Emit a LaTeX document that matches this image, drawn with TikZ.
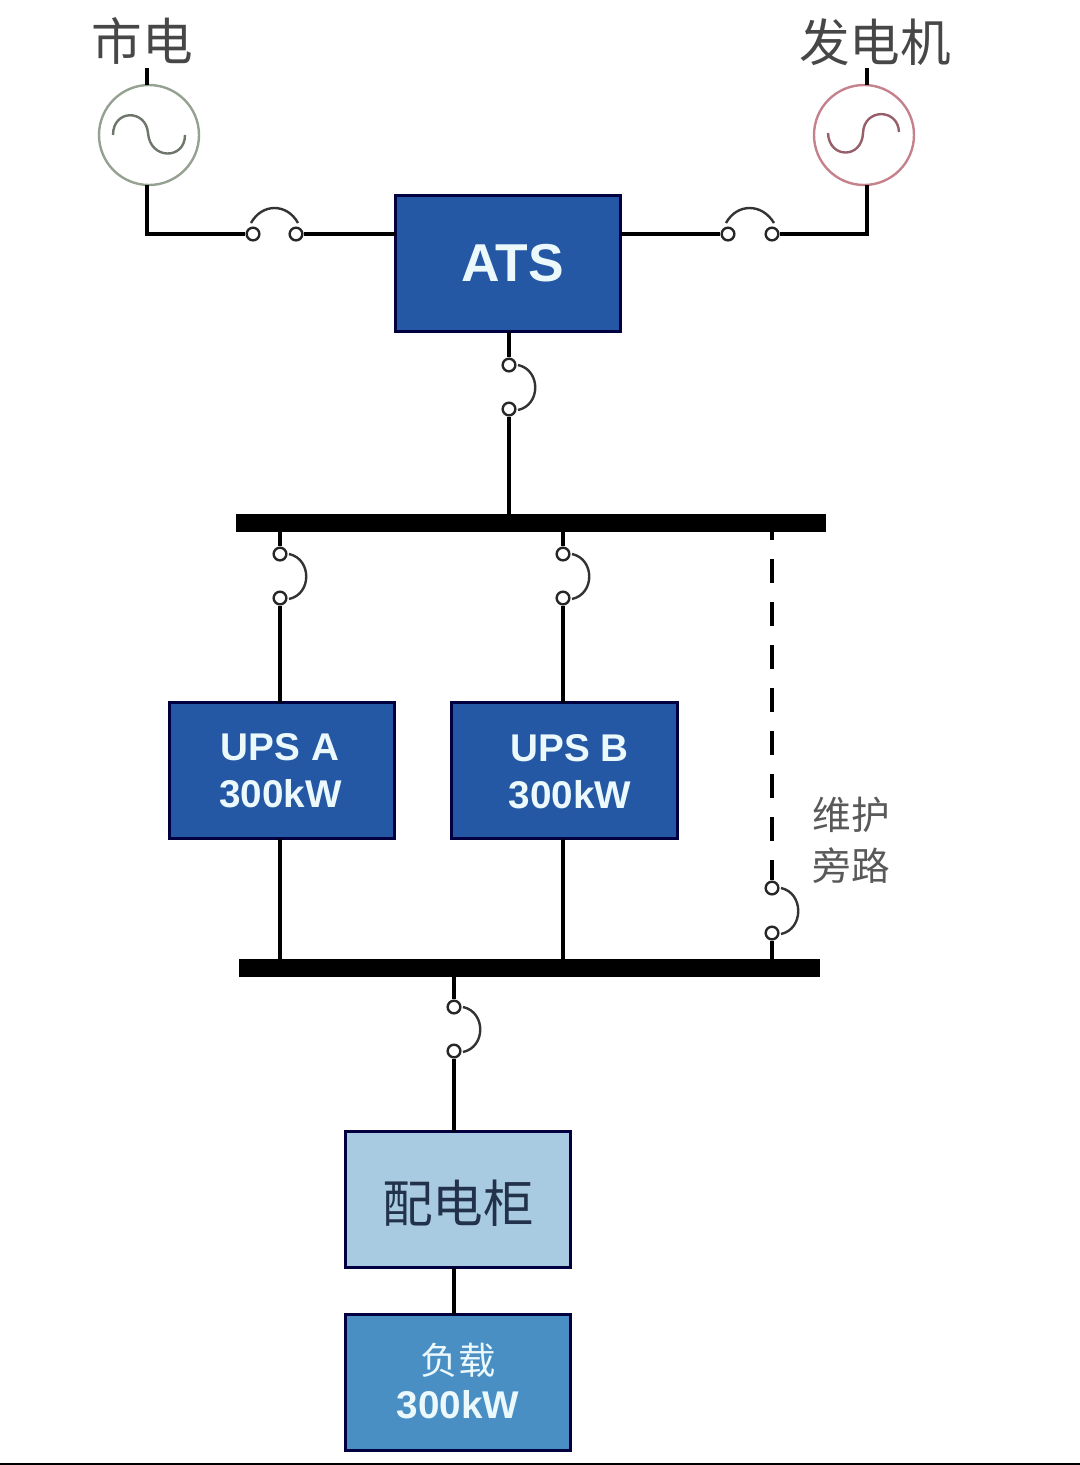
\documentclass[tikz,border=0pt]{standalone}
\usepackage{fontspec}
\setmainfont{Liberation Sans}
\newfontfamily\cjk{Noto Sans CJK SC}
\definecolor{boxblue}{RGB}{36,87,164}
\definecolor{boxlight}{RGB}{168,203,226}
\definecolor{boxload}{RGB}{74,143,196}
\definecolor{gridgreen}{RGB}{150,162,145}
\definecolor{genred}{RGB}{198,130,140}
\definecolor{wavegrey}{RGB}{110,118,108}
\definecolor{wavered}{RGB}{150,95,105}
\definecolor{cabtext}{RGB}{35,50,75}
\definecolor{paletext}{RGB}{235,248,252}
\tikzset{every picture/.style={line width=0.75pt}}
\tikzset{
  wire/.style={line width=2.4pt,black},
  bus/.style={fill=black,draw=none,inner sep=0pt,outer sep=0pt,minimum height=13.5pt},
  contact/.style={circle,draw=black!85,line width=1.8pt,fill=white,inner sep=0pt,minimum size=9.5pt},
  bridge/.style={line width=1.8pt,black!80},
  blockbox/.style={draw=black!75!blue,line width=2.4pt,inner sep=0pt,outer sep=0pt,minimum width=169pt,minimum height=102pt,align=center},
  upsbox/.style={blockbox,fill=boxblue,text=paletext,font=\bfseries\fontsize{29pt}{35pt}\selectfont},
  source/.style={circle,line width=1.8pt,fill=white,inner sep=0pt,outer sep=0pt,minimum size=75pt},
  wave/.style={line width=1.8pt}
}
\begin{document}
\begin{tikzpicture}[x=0.75pt,y=0.75pt,yscale=-1,xscale=1]
        \useasboundingbox (0,0) rectangle (1080,1465);
        %bottom edge of the page
        \fill [black] (0,1462.5) rectangle (1080,1465);

        %Blocks
        \node (ats) [blockbox,fill=boxblue,text=paletext,font=\bfseries\fontsize{40pt}{44pt}\selectfont] at (508,263.5) {\hspace{7pt}ATS};
        \node (upsa) [upsbox] at (282,770.5) {\hspace{-3pt}UPS A\hspace{1pt}\\\hspace{-2pt}300kW};
        \node (upsb) [upsbox,minimum width=170pt] at (564.5,770.5) {\raisebox{0pt}[\dimexpr\height+2.2pt][\depth]{\hspace{8pt}UPS B}\\\hspace{8pt}300kW};
        \node (cabinet) [blockbox,fill=boxlight,text=cabtext,font=\cjk\fontsize{38pt}{42pt}\selectfont] at (458,1199.5) {\raisebox{0pt}[\dimexpr\height+6pt][\depth]{配电柜}};
        \node (load) [blockbox,fill=boxload,text=paletext,font=\bfseries\fontsize{29pt}{33pt}\selectfont] at (458,1382.5) {{\cjk\mdseries\fontsize{28pt}{33pt}\selectfont 负载}\\\raisebox{0pt}[\height][\dimexpr\depth+3pt]{300kW}};

        %Bus bars
        \node (busa) [bus,minimum width=442.5pt] at (531,523) {};
        \node (busb) [bus,minimum width=435.75pt] at (529.5,968) {};

        %Sources
        \node (grid) [source,draw=gridgreen] at (149,135) {};
        \node (gen) [source,draw=genred] at (864,135) {};
        \draw [wave,wavegrey] (113,135) .. controls (113,109) and (146,109) .. (148,133) .. controls (150,160) and (185,160) .. (185,135);
        \draw [wave,wavered] (828,133) .. controls (829,159) and (862,159) .. (863,133) .. controls (864,108) and (898,108) .. (899,132);

        %Contacts
        \node (ca1) [contact] at (253,234) {};
        \node (ca2) [contact] at (296,234) {};
        \node (cb1) [contact] at (728,234) {};
        \node (cb2) [contact] at (772,234) {};
        \node (cc1) [contact] at (509,365) {};
        \node (cc2) [contact] at (509,409) {};
        \node (cd1) [contact] at (280,554) {};
        \node (cd2) [contact] at (280,598) {};
        \node (ce1) [contact] at (563,554) {};
        \node (ce2) [contact] at (563,598) {};
        \node (cf1) [contact] at (772,888) {};
        \node (cf2) [contact] at (772,933) {};
        \node (cg1) [contact] at (454,1007) {};
        \node (cg2) [contact] at (454,1051) {};

        %Contact bridges
        \draw [bridge] (251,223) .. controls (262,203) and (287,203) .. (298,223);
        \draw [bridge] (726,223) .. controls (737,203) and (762,203) .. (774,223);
        \draw [bridge] (518,365) .. controls (541,370) and (541,405) .. (518,410);
        \draw [bridge] (289,554) .. controls (312,559) and (312,594) .. (289,599);
        \draw [bridge] (572,554) .. controls (595,559) and (595,594) .. (572,599);
        \draw [bridge] (781,888) .. controls (804,893) and (804,929) .. (781,934);
        \draw [bridge] (463,1007) .. controls (486,1012) and (486,1047) .. (463,1052);

        %Wires
        \coordinate (gridtop) at (147,68);
        \coordinate (gentop) at (867,68);
        \draw [wire] (gridtop) -- (grid.north -| gridtop);
        \draw [wire] (gentop) -- (gen.north -| gentop);
        \draw [wire] (grid.south -| gridtop) |- (ca1.west);
        \draw [wire] (ca2.east) -- (ats.west |- ca2);
        \draw [wire] (ats.east |- cb1) -- (cb1.west);
        \draw [wire] (cb2.east) -| (gen.south -| gentop);
        \draw [wire] (ats.south -| cc1) -- (cc1.north);
        \draw [wire] (cc2.south) -- (busa.north -| cc2);
        \draw [wire] (busa.south -| cd1) -- (cd1.north);
        \draw [wire] (cd2.south) -- (upsa.north -| cd2);
        \draw [wire] (busa.south -| ce1) -- (ce1.north);
        \draw [wire] (ce2.south) -- (upsb.north -| ce2);
        \draw [wire] (upsa.south -| cd2) -- (busb.north -| cd2);
        \draw [wire] (upsb.south -| ce2) -- (busb.north -| ce2);
        \draw [wire,dash pattern=on 18pt off 14.25pt,dash phase=12pt] (busa.south -| cf1) -- (cf1.north);
        \draw [wire] (cf2.south) -- (busb.north -| cf2);
        \draw [wire] (busb.south -| cg1) -- (cg1.north);
        \draw [wire] (cg2.south) -- (cabinet.north -| cg2);
        \draw [wire] (cabinet.south -| cg2) -- (load.north -| cg2);

        % Text Node
        \node (gridlabel) [font=\cjk\fontsize{38pt}{42pt}\selectfont,text=black!72] at (142,41) {市电};
        % Text Node
        \node (genlabel) [font=\cjk\fontsize{38pt}{42pt}\selectfont,text=black!72] at (875,42) {发电机};
        % Text Node
        \node (bypasslabel) [font=\cjk\fontsize{29pt}{38pt}\selectfont,text=black!65,align=center] at (851,840) {维护\\旁路};
\end{tikzpicture}
\end{document}
